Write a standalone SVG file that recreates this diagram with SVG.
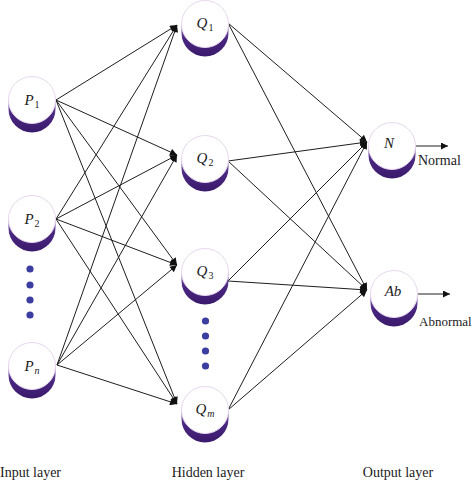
<svg xmlns="http://www.w3.org/2000/svg" width="474" height="481" viewBox="0 0 474 481">
<defs>
<style>
.bg{fill:#ffffff}
.base{fill:url(#pg)}
.top{fill:#ffffff;stroke:#e6d8ee;stroke-width:1}
.lbl{font-family:"Liberation Serif","DejaVu Serif",serif;font-style:italic;font-size:15px;fill:#1a1a1a;text-anchor:middle}
.sub{font-size:10px;font-style:normal}
.subi{font-size:10px;font-style:italic}
.edge{stroke:#1e1e1e;stroke-width:1;fill:none;marker-end:url(#ah)}
.cap{font-family:"Liberation Serif","DejaVu Serif",serif;font-size:14px;fill:#1a1a1a}
.dot{fill:#3b3da0}
</style>
<linearGradient id="pg" x1="0" y1="0" x2="0" y2="1">
<stop offset="0" stop-color="#8a6ab5"/>
<stop offset="0.45" stop-color="#4a2780"/>
<stop offset="1" stop-color="#3a1a6c"/>
</linearGradient>
<marker id="ah" viewBox="0 0 10 10" refX="10" refY="5" markerWidth="8" markerHeight="7" markerUnits="userSpaceOnUse" orient="auto">
<path d="M0,0 L10,5 L0,10 z" fill="#111"/>
</marker>
<g id="node">
<path class="base" d="M-23.5,0 L-23.5,9 A23.5,23.5 0 0 0 23.5,9 L23.5,0 Z"/>
<circle class="top" cx="0" cy="0" r="23.5"/>
</g>
</defs>
<rect class="bg" x="0" y="0" width="474" height="481"/>

<g id="connectors">
<line class="edge" x1="56" y1="100" x2="177" y2="25"/>
<line class="edge" x1="56" y1="100" x2="177" y2="155"/>
<line class="edge" x1="56" y1="100" x2="177" y2="265"/>
<line class="edge" x1="56" y1="100" x2="177" y2="404"/>
<line class="edge" x1="56" y1="219" x2="177" y2="25"/>
<line class="edge" x1="56" y1="219" x2="177" y2="155"/>
<line class="edge" x1="56" y1="219" x2="177" y2="265"/>
<line class="edge" x1="56" y1="219" x2="177" y2="404"/>
<line class="edge" x1="57" y1="365" x2="177" y2="25"/>
<line class="edge" x1="57" y1="365" x2="177" y2="155"/>
<line class="edge" x1="57" y1="365" x2="177" y2="265"/>
<line class="edge" x1="57" y1="365" x2="177" y2="404"/>
<line class="edge" x1="228" y1="23" x2="367" y2="142"/>
<line class="edge" x1="228" y1="23" x2="367" y2="290"/>
<line class="edge" x1="228" y1="161" x2="367" y2="142"/>
<line class="edge" x1="228" y1="161" x2="367" y2="290"/>
<line class="edge" x1="228" y1="281" x2="367" y2="142"/>
<line class="edge" x1="228" y1="281" x2="367" y2="290"/>
<line class="edge" x1="228" y1="410" x2="367" y2="142"/>
<line class="edge" x1="228" y1="410" x2="367" y2="290"/>
<line class="edge" x1="415" y1="146" x2="448" y2="146"/>
<line class="edge" x1="417" y1="294" x2="450" y2="294"/>
</g>

<g id="P1"><use href="#node" x="32" y="100"/><text class="lbl" x="32" y="105">P<tspan class="sub" dx="1" dy="3">1</tspan></text></g>
<g id="P2"><use href="#node" x="32" y="219"/><text class="lbl" x="32" y="224">P<tspan class="sub" dx="1" dy="3">2</tspan></text></g>
<g id="Pn"><use href="#node" x="32" y="366"/><text class="lbl" x="32" y="371">P<tspan class="subi" dx="1" dy="3">n</tspan></text></g>
<g id="input-dots">
<circle class="dot" cx="30" cy="269" r="3.6"/>
<circle class="dot" cx="30" cy="285" r="3.6"/>
<circle class="dot" cx="30" cy="300" r="3.6"/>
<circle class="dot" cx="30" cy="315" r="3.6"/>
</g>

<g id="Q1"><use href="#node" x="205" y="24"/><text class="lbl" x="205" y="28">Q<tspan class="sub" dx="1" dy="3">1</tspan></text></g>
<g id="Q2"><use href="#node" x="205" y="159"/><text class="lbl" x="205" y="163">Q<tspan class="sub" dx="1" dy="3">2</tspan></text></g>
<g id="Q3"><use href="#node" x="205" y="272"/><text class="lbl" x="205" y="276">Q<tspan class="sub" dx="1" dy="3">3</tspan></text></g>
<g id="Qm"><use href="#node" x="205" y="410"/><text class="lbl" x="205" y="414">Q<tspan class="subi" dx="1" dy="3">m</tspan></text></g>
<g id="hidden-dots">
<circle class="dot" cx="205.5" cy="321" r="3.6"/>
<circle class="dot" cx="205.5" cy="336" r="3.6"/>
<circle class="dot" cx="205.5" cy="351" r="3.6"/>
<circle class="dot" cx="205.5" cy="366" r="3.6"/>
</g>

<g id="N"><use href="#node" x="392" y="146"/><text class="lbl" x="389" y="148">N</text><text class="cap" x="418" y="165" font-size="13.5">Normal</text></g>
<g id="Ab"><use href="#node" x="394" y="294"/><text class="lbl" x="393" y="296">Ab</text><text class="cap" x="419" y="326" font-size="13" style="font-size:13px">Abnormal</text></g>

<g id="captions">
<text class="cap" x="0" y="477">Input layer</text>
<text class="cap" x="208" y="477" text-anchor="middle">Hidden layer</text>
<text class="cap" x="398" y="477" text-anchor="middle">Output layer</text>
</g>
</svg>
